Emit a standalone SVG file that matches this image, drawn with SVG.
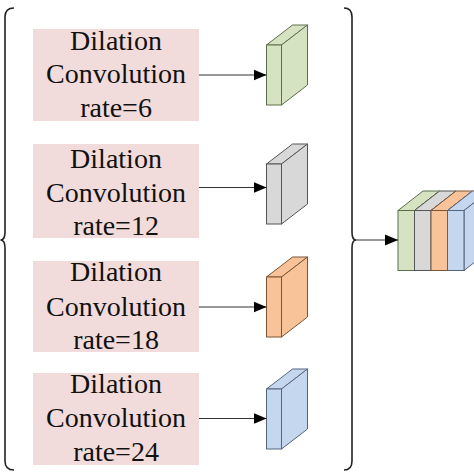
<svg xmlns="http://www.w3.org/2000/svg" width="474" height="474" viewBox="0 0 474 474">
<defs>
<marker id="ah" markerUnits="userSpaceOnUse" markerWidth="14" markerHeight="12" refX="13" refY="6" orient="auto">
<path d="M0,0.5 L13,6 L0,11.5 Z" fill="#000"/>
</marker>
<style>
.box{fill:#f2dcdb;stroke:none}
text.t{font-family:'Liberation Serif',serif;font-size:28px;fill:#111;text-anchor:middle}
.conn{stroke:#333;stroke-width:1.2;fill:none}
.brace{stroke:#222;stroke-width:1.6;fill:none}
.g{fill:#d5e3c3;stroke:#5e6e4a;stroke-width:1}
.gr{fill:#d8d8d8;stroke:#555;stroke-width:1}
.o{fill:#f9c39a;stroke:#7a5535;stroke-width:1}
.b{fill:#c5d6ef;stroke:#55657e;stroke-width:1}
</style>
</defs>
<rect width="474" height="474" fill="#fff"/>

<g id="braces">
<path class="brace" d="M14 8 Q5 8 5 17 L5 232 Q5 240 0.5 240 Q5 240 5 248 L5 461 Q5 470 14 470"/>
<path class="brace" d="M344 8 Q352 8 352 17 L352 232 Q352 240 356 240 Q352 240 352 248 L352 461 Q352 470 344 470"/>
</g>

<g id="node-b1">
<rect class="box" x="33" y="29" width="166" height="92"/>
<text class="t" x="116" y="50" font-family="Liberation Serif">Dilation</text>
<text class="t" x="116" y="83" font-family="Liberation Serif">Convolution</text>
<text class="t" x="116" y="117" font-family="Liberation Serif">rate=6</text>
</g>
<g id="node-b2">
<rect class="box" x="33" y="144" width="166" height="94"/>
<text class="t" x="116" y="168" font-family="Liberation Serif">Dilation</text>
<text class="t" x="116" y="202" font-family="Liberation Serif">Convolution</text>
<text class="t" x="116" y="235" font-family="Liberation Serif">rate=12</text>
</g>
<g id="node-b3">
<rect class="box" x="33" y="261" width="166" height="91"/>
<text class="t" x="116" y="281" font-family="Liberation Serif">Dilation</text>
<text class="t" x="116" y="316" font-family="Liberation Serif">Convolution</text>
<text class="t" x="116" y="349" font-family="Liberation Serif">rate=18</text>
</g>
<g id="node-b4">
<rect class="box" x="33" y="373" width="166" height="92"/>
<text class="t" x="116" y="393" font-family="Liberation Serif">Dilation</text>
<text class="t" x="116" y="427" font-family="Liberation Serif">Convolution</text>
<text class="t" x="116" y="461" font-family="Liberation Serif">rate=24</text>
</g>

<g id="node-c1">
<path class="g" d="M266.5 45 L292.5 25 L307.5 25 L281.5 45 Z"/>
<path class="g" d="M281.5 45 L307.5 25 L307.5 85 L281.5 105 Z"/>
<rect class="g" x="266.5" y="45" width="15" height="60"/>
</g>
<g id="node-c2">
<path class="gr" d="M266.5 164 L292.5 144 L307.5 144 L281.5 164 Z"/>
<path class="gr" d="M281.5 164 L307.5 144 L307.5 204 L281.5 224 Z"/>
<rect class="gr" x="266.5" y="164" width="15" height="60"/>
</g>
<g id="node-c3">
<path class="o" d="M266.5 277 L292.5 257 L307.5 257 L281.5 277 Z"/>
<path class="o" d="M281.5 277 L307.5 257 L307.5 317 L281.5 337 Z"/>
<rect class="o" x="266.5" y="277" width="15" height="60"/>
</g>
<g id="node-c4">
<path class="b" d="M266.5 389 L292.5 369 L307.5 369 L281.5 389 Z"/>
<path class="b" d="M281.5 389 L307.5 369 L307.5 429 L281.5 449 Z"/>
<rect class="b" x="266.5" y="389" width="15" height="60"/>
</g>

<g id="node-out">
<path class="g" d="M398 210.5 L423 191 L439.5 191 L414.5 210.5 Z"/>
<path class="g" d="M414.5 210.5 L439.5 191 L439.5 251 L414.5 270.5 Z"/>
<rect class="g" x="398" y="210.5" width="16.5" height="60"/>
<path class="gr" d="M414.5 210.5 L439.5 191 L456 191 L431 210.5 Z"/>
<path class="gr" d="M431 210.5 L456 191 L456 251 L431 270.5 Z"/>
<rect class="gr" x="414.5" y="210.5" width="16.5" height="60"/>
<path class="o" d="M431 210.5 L456 191 L472.5 191 L447.5 210.5 Z"/>
<path class="o" d="M447.5 210.5 L472.5 191 L472.5 251 L447.5 270.5 Z"/>
<rect class="o" x="431" y="210.5" width="16.5" height="60"/>
<path class="b" d="M447.5 210.5 L472.5 191 L489 191 L464 210.5 Z"/>
<path class="b" d="M464 210.5 L489 191 L489 251 L464 270.5 Z"/>
<rect class="b" x="447.5" y="210.5" width="16.5" height="60"/>
</g>

<g id="connectors">
<line class="conn" x1="199" y1="75" x2="266.5" y2="75" marker-end="url(#ah)"/>
<line class="conn" x1="199" y1="187.5" x2="266.5" y2="187.5" marker-end="url(#ah)"/>
<line class="conn" x1="199" y1="307" x2="266.5" y2="307" marker-end="url(#ah)"/>
<line class="conn" x1="199" y1="418.5" x2="266.5" y2="418.5" marker-end="url(#ah)"/>
<line class="conn" x1="356" y1="240" x2="398" y2="240" marker-end="url(#ah)"/>
</g>
</svg>
